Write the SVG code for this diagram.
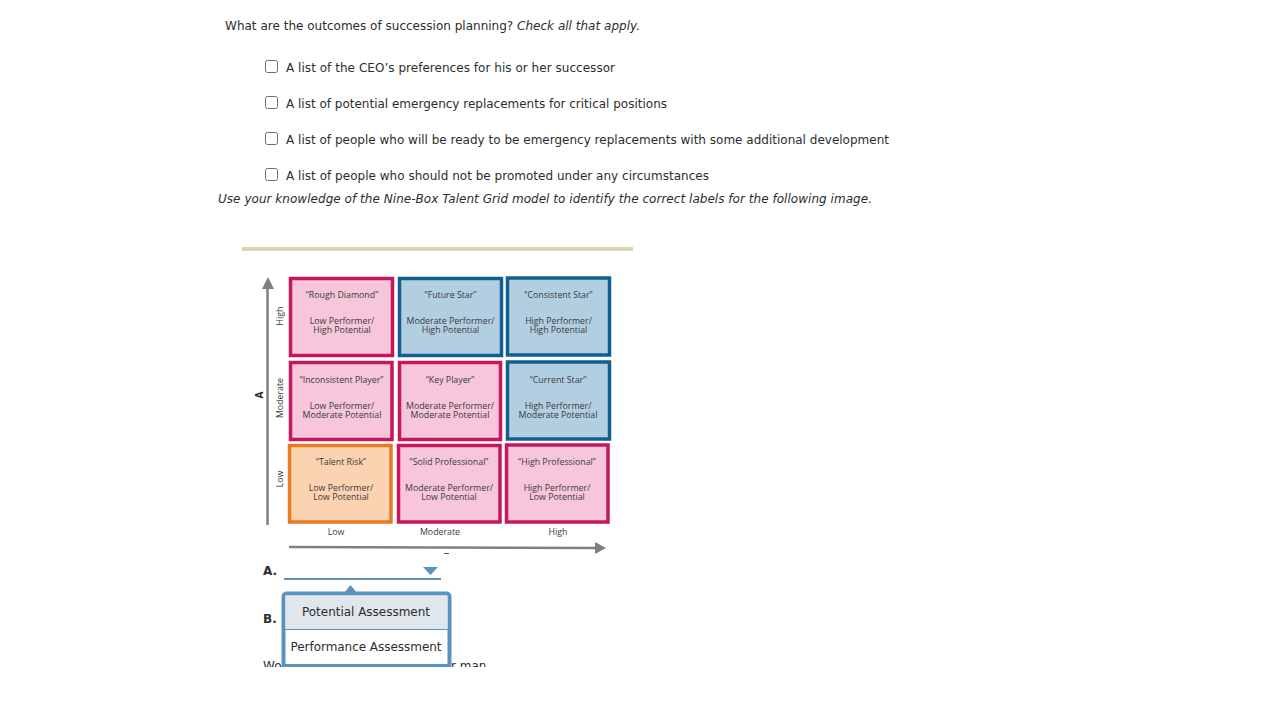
<svg xmlns="http://www.w3.org/2000/svg" width="1280" height="720" viewBox="0 0 1280 720">
<style>
.q{font-family:"DejaVu Sans",Verdana,sans-serif;font-size:12px;fill:#2d2d2d}
.i{font-style:italic}
.b{font-weight:bold}
.g{font-family:"Open Sans",sans-serif;font-size:8.8px;fill:#3a3a3a;text-anchor:middle}
.cb{fill:#fff;stroke:#6e6e6e;stroke-width:1}
.pink{fill:#f7c6da;stroke:#c5175b;stroke-width:3.500}
.blue{fill:#b2cfe2;stroke:#0f6090;stroke-width:3.500}
.orange{fill:#fcd3b0;stroke:#e67b22;stroke-width:3.500}
.ax{stroke:#7f7f7f;stroke-width:2.500;fill:none}
.ah{fill:#7f7f7f}
</style>
<defs><clipPath id="cut"><rect x="0" y="0" width="1280" height="667"/></clipPath></defs>
<rect width="1280" height="720" fill="#fff"/>
<text class="q" x="225" y="30" textLength="415">What are the outcomes of succession planning? <tspan class="i">Check all that apply.</tspan></text>
<g id="opt1"><rect class="cb" x="265.500" y="60.500" width="12" height="12" rx="2"/><text class="q" x="286" y="72" textLength="329">A list of the CEO’s preferences for his or her successor</text></g>
<g id="opt2"><rect class="cb" x="265.500" y="96.500" width="12" height="12" rx="2"/><text class="q" x="286" y="108" textLength="381">A list of potential emergency replacements for critical positions</text></g>
<g id="opt3"><rect class="cb" x="265.500" y="132.500" width="12" height="12" rx="2"/><text class="q" x="286" y="144" textLength="603">A list of people who will be ready to be emergency replacements with some additional development</text></g>
<g id="opt4"><rect class="cb" x="265.500" y="168.500" width="12" height="12" rx="2"/><text class="q" x="286" y="180" textLength="423">A list of people who should not be promoted under any circumstances</text></g>
<text class="q i" x="218" y="203" textLength="654">Use your knowledge of the Nine-Box Talent Grid model to identify the correct labels for the following image.</text>
<rect x="242" y="247" width="391" height="4" fill="#dcd5b3"/>
<g id="connectors">
<path class="ax" d="M267.500 525V288"/><path class="ah" d="M262 289L268 277L274 289Z"/>
<path class="ax" d="M289 547L596 548"/><path class="ah" d="M595 542L606 548L595 554Z"/>
</g>
<g id="box-rough-diamond"><rect class="pink" x="290.500" y="278.500" width="102" height="77"/><text class="g" x="342" y="298">“Rough Diamond”</text><text class="g" x="342" y="324">Low Performer/</text><text class="g" x="342" y="333">High Potential</text></g>
<g id="box-future-star"><rect class="blue" x="399.500" y="278.500" width="102" height="77"/><text class="g" x="450.500" y="298">“Future Star”</text><text class="g" x="450.500" y="324">Moderate Performer/</text><text class="g" x="450.500" y="333">High Potential</text></g>
<g id="box-consistent-star"><rect class="blue" x="507.500" y="278" width="102" height="77"/><text class="g" x="558.500" y="298">“Consistent Star”</text><text class="g" x="558.500" y="324">High Performer/</text><text class="g" x="558.500" y="333">High Potential</text></g>
<g id="box-inconsistent-player"><rect class="pink" x="290.500" y="362.500" width="101.500" height="77"/><text class="g" x="341.500" y="383">“Inconsistent Player”</text><text class="g" x="342" y="409">Low Performer/</text><text class="g" x="342" y="418">Moderate Potential</text></g>
<g id="box-key-player"><rect class="pink" x="399.500" y="362.500" width="101" height="77"/><text class="g" x="450" y="383">“Key Player”</text><text class="g" x="450" y="409">Moderate Performer/</text><text class="g" x="450" y="418">Moderate Potential</text></g>
<g id="box-current-star"><rect class="blue" x="507.500" y="362" width="102" height="77"/><text class="g" x="558" y="383">“Current Star”</text><text class="g" x="558" y="409">High Performer/</text><text class="g" x="558" y="418">Moderate Potential</text></g>
<g id="box-talent-risk"><rect class="orange" x="289.500" y="445.500" width="101.500" height="76.500"/><text class="g" x="341" y="465">“Talent Risk”</text><text class="g" x="341" y="491">Low Performer/</text><text class="g" x="341" y="500">Low Potential</text></g>
<g id="box-solid-professional"><rect class="pink" x="398.500" y="445.500" width="101.500" height="76.500"/><text class="g" x="449" y="465">“Solid Professional”</text><text class="g" x="449" y="491">Moderate Performer/</text><text class="g" x="449" y="500">Low Potential</text></g>
<g id="box-high-professional"><rect class="pink" x="506.500" y="445" width="101.500" height="77"/><text class="g" x="557" y="465">“High Professional”</text><text class="g" x="557" y="491">High Performer/</text><text class="g" x="557" y="500">Low Potential</text></g>
<text class="g" transform="translate(283,316) rotate(-90)">High</text>
<text class="g" transform="translate(283,398) rotate(-90)">Moderate</text>
<text class="g" transform="translate(283,479) rotate(-90)">Low</text>
<text class="g" x="336" y="535">Low</text>
<text class="g" x="440" y="535">Moderate</text>
<text class="g" x="558" y="535">High</text>
<text class="g b" transform="translate(263,395) rotate(-90)" style="font-size:10px;fill:#222">A</text>
<rect x="444" y="553" width="5" height="1" fill="#555"/>
<g id="answer-a"><text class="q b" x="263" y="575">A.</text><rect x="284" y="578" width="157" height="2" fill="#5b93bf"/><path d="M423 567H438L430.500 575Z" fill="#5b93bf"/></g>
<text class="q b" x="263" y="623">B.</text>
<g clip-path="url(#cut)"><text class="q" x="263" y="670">Wo</text><text class="q" x="451" y="670">r man</text></g>
<g id="dropdown" clip-path="url(#cut)">
<path d="M344 593L350.500 585L357 593Z" fill="#5b93bf"/>
<rect x="283.500" y="593.500" width="166" height="80" rx="3" fill="#fff" stroke="#5b93bf" stroke-width="4"/>
<rect x="285.500" y="595.500" width="162" height="33.500" fill="#dfe7ec"/>
<rect x="285" y="629" width="163" height="1" fill="#5b93bf"/>
<rect x="282" y="664" width="169" height="3" fill="#5b93bf"/>
<text class="q" x="302" y="616" textLength="128">Potential Assessment</text>
<text class="q" x="290.500" y="651" textLength="151">Performance Assessment</text>
</g>
</svg>
